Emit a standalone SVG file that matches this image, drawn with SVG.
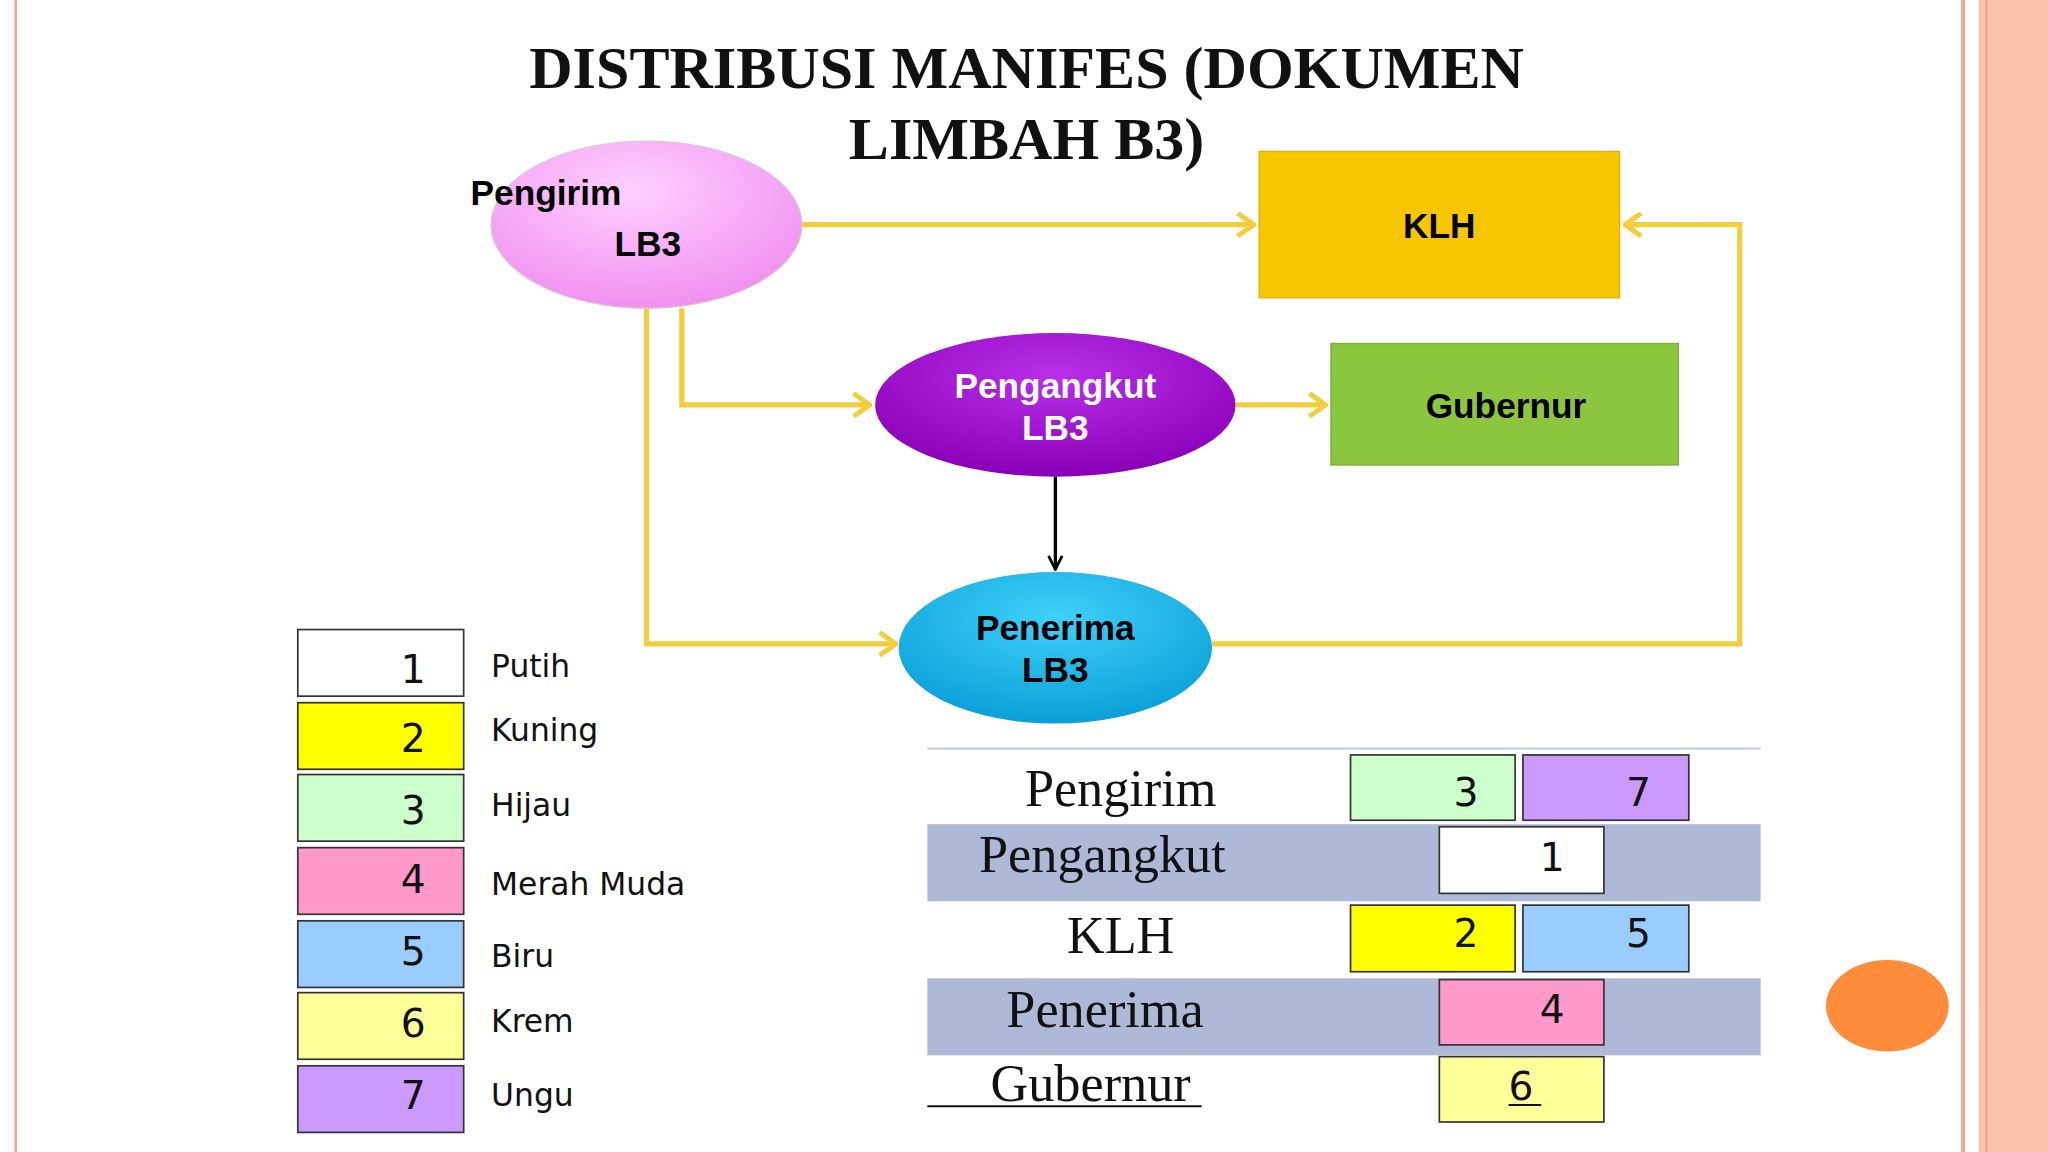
<svg xmlns="http://www.w3.org/2000/svg" width="2048" height="1152" viewBox="0 0 2048 1152">
<style>
.t{font-family:"Liberation Serif",serif;font-weight:bold;font-size:46px;fill:#111;text-anchor:middle}
.n{font-family:"Liberation Sans",Arial,sans-serif;font-weight:bold;font-size:27px;text-anchor:middle}
.c{fill:none;stroke:#F2CE3C;stroke-width:4}
.lg{font-family:"DejaVu Sans",sans-serif;font-size:30px;text-anchor:end;fill:#111}
.ll{font-family:"DejaVu Sans",sans-serif;font-size:24px;fill:#111}
.rw{font-family:"Liberation Serif",serif;font-size:40px;fill:#111;text-anchor:middle}
.bx{stroke:#333;stroke-width:1.3}
</style>
<defs>
<marker id="ya" viewBox="0 0 12 16" refX="11" refY="8" markerWidth="4" markerHeight="5" markerUnits="strokeWidth" orient="auto"><polyline points="1,1 11,8 1,15" fill="none" stroke="#F2CE3C" stroke-width="3"/></marker>
<marker id="ba" viewBox="0 0 12 12" refX="11" refY="6" markerWidth="5" markerHeight="5" markerUnits="strokeWidth" orient="auto"><polyline points="1,1 11,6 1,11" fill="none" stroke="#000" stroke-width="2"/></marker>
<radialGradient id="gp" cx="0.45" cy="0.3" r="0.7"><stop offset="0" stop-color="#FFD0FF"/><stop offset="1" stop-color="#F090F0"/></radialGradient>
<radialGradient id="gv" cx="0.5" cy="0.3" r="0.7"><stop offset="0" stop-color="#B830E8"/><stop offset="1" stop-color="#8A00B8"/></radialGradient>
<radialGradient id="gc" cx="0.5" cy="0.3" r="0.7"><stop offset="0" stop-color="#40D0F8"/><stop offset="1" stop-color="#0AA0D8"/></radialGradient>
</defs>
<rect width="2048" height="1152" fill="#fff"/>
<g transform="scale(1.30612)">
<line x1="12" y1="0" x2="12" y2="882" stroke="#F4A890" stroke-width="2"/>
<line x1="1503" y1="0" x2="1503" y2="882" stroke="#F4A890" stroke-width="3"/>
<rect x="1515" y="0" width="53" height="882" fill="#FBC3A9"/>
<line x1="1521" y1="0" x2="1521" y2="882" stroke="#F4A890" stroke-width="2"/>
<text class="t" x="786" y="67">DISTRIBUSI MANIFES (DOKUMEN</text>
<text class="t" x="786" y="122">LIMBAH B3)</text>
<g id="connectors">
<line class="c" x1="614" y1="172" x2="960" y2="172" marker-end="url(#ya)"/>
<polyline class="c" points="522,236 522,310 666,310" marker-end="url(#ya)"/>
<polyline class="c" points="495,236 495,493 686,493" marker-end="url(#ya)"/>
<line class="c" x1="946" y1="310" x2="1015" y2="310" marker-end="url(#ya)"/>
<polyline class="c" points="928,493 1332,493 1332,172 1244,172" marker-end="url(#ya)"/>
<line x1="808" y1="365" x2="808" y2="436" stroke="#000" stroke-width="2.5" marker-end="url(#ba)"/>
</g>
<g id="pengirim"><ellipse cx="495" cy="172" rx="119" ry="64" fill="url(#gp)" stroke="#D8C8D8"/>
<text class="n" x="418" y="157">Pengirim</text><text class="n" x="496" y="196">LB3</text></g>
<g id="klh"><rect x="964" y="116" width="276" height="112" fill="#F8C600" stroke="#E0B000"/>
<text class="n" x="1102" y="182">KLH</text></g>
<g id="pengangkut"><ellipse cx="808" cy="310" rx="138" ry="55" fill="url(#gv)"/>
<text class="n" x="808" y="305" fill="#fff">Pengangkut</text><text class="n" x="808" y="337" fill="#fff">LB3</text></g>
<g id="gubernur"><rect x="1019" y="263" width="266" height="93" fill="#8CC63F" stroke="#78B030"/>
<text class="n" x="1153" y="320">Gubernur</text></g>
<g id="penerima"><ellipse cx="808" cy="496" rx="120" ry="58" fill="url(#gc)"/>
<text class="n" x="808" y="490">Penerima</text><text class="n" x="808" y="522">LB3</text></g>
<g id="legend">
<rect class="bx" x="228" y="482" width="127" height="51" fill="#fff"/>
<rect class="bx" x="228" y="538" width="127" height="51" fill="#FFFF00"/>
<rect class="bx" x="228" y="593" width="127" height="51" fill="#CCFFCC"/>
<rect class="bx" x="228" y="649" width="127" height="51" fill="#FF99CC"/>
<rect class="bx" x="228" y="705" width="127" height="51" fill="#99CCFF"/>
<rect class="bx" x="228" y="760" width="127" height="51" fill="#FFFF99"/>
<rect class="bx" x="228" y="816" width="127" height="51" fill="#CC99FF"/>
<text class="lg" x="326" y="523">1</text><text class="lg" x="326" y="576">2</text><text class="lg" x="326" y="631">3</text><text class="lg" x="326" y="684">4</text><text class="lg" x="326" y="739">5</text><text class="lg" x="326" y="794">6</text><text class="lg" x="326" y="849">7</text>
<text class="ll" x="376" y="518">Putih</text><text class="ll" x="376" y="567">Kuning</text><text class="ll" x="376" y="625">Hijau</text><text class="ll" x="376" y="685">Merah Muda</text><text class="ll" x="376" y="740">Biru</text><text class="ll" x="376" y="790">Krem</text><text class="ll" x="376" y="847">Ungu</text>
</g>
<g id="table">
<line x1="710" y1="573" x2="1348" y2="573" stroke="#C0C8DC" stroke-width="1.5"/>
<rect x="710" y="631" width="638" height="59" fill="#ADB9D6"/>
<rect x="710" y="749" width="638" height="59" fill="#ADB9D6"/>
<text class="rw" x="858" y="617">Pengirim</text>
<text class="rw" x="844" y="668">Pengangkut</text>
<text class="rw" x="858" y="730">KLH</text>
<text class="rw" x="846" y="786">Penerima</text>
<text class="rw" x="835" y="843">Gubernur</text>
<line x1="710" y1="847" x2="920" y2="847" stroke="#111" stroke-width="1.5"/>
<rect class="bx" x="1034" y="578" width="126" height="50" fill="#CCFFCC"/>
<rect class="bx" x="1166" y="578" width="127" height="50" fill="#CC99FF"/>
<rect class="bx" x="1102" y="633" width="126" height="51" fill="#fff"/>
<rect class="bx" x="1034" y="693" width="126" height="51" fill="#FFFF00"/>
<rect class="bx" x="1166" y="693" width="127" height="51" fill="#99CCFF"/>
<rect class="bx" x="1102" y="750" width="126" height="50" fill="#FF99CC"/>
<rect class="bx" x="1102" y="809" width="126" height="50" fill="#FFFF99"/>
<text class="lg" x="1132" y="617">3</text><text class="lg" x="1264" y="617">7</text>
<text class="lg" x="1198" y="667" font-size="28">1</text>
<text class="lg" x="1132" y="725" font-size="28">2</text><text class="lg" x="1264" y="725" font-size="28">5</text>
<text class="lg" x="1198" y="783" font-size="28">4</text>
<text class="lg" x="1174" y="842" font-size="28">6</text>
<line x1="1155" y1="846" x2="1180" y2="846" stroke="#111" stroke-width="1.5"/>
</g>
<ellipse cx="1445" cy="770" rx="47" ry="35" fill="#FF8C3A"/>
</g>
</svg>
